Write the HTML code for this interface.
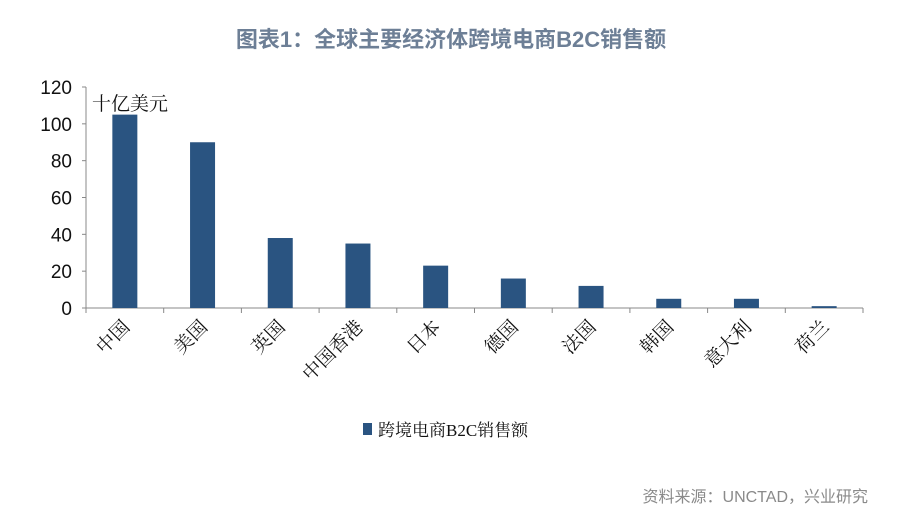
<!DOCTYPE html>
<html><head><meta charset="utf-8"><style>
body{margin:0;background:#fff;}
svg text{font-family:"Liberation Sans","Noto Sans CJK SC",sans-serif;}
svg text.serif{font-family:"Liberation Serif","Noto Serif CJK SC",serif;}
</style></head><body>
<svg width="902" height="517">
<text x="451" y="47" text-anchor="middle" font-size="22" font-weight="bold" fill="#6d7f96">图表1：全球主要经济体跨境电商B2C销售额</text>
<g id="plot"></g>
<text class="serif" x="92" y="110" font-size="19" fill="#111">十亿美元</text>
<rect x="363" y="423" width="9" height="12" fill="#2a5481"/>
<text class="serif" x="378" y="436" font-size="17" fill="#111">跨境电商B2C销售额</text>
<text x="868" y="502" text-anchor="end" font-size="16" fill="#8a8a8a">资料来源：UNCTAD，兴业研究</text>
</svg>
<script>
const categories=["中国","美国","英国","中国香港","日本","德国","法国","韩国","意大利","荷兰"];
const values=[105,90,38,35,23,16,12,5,5,1];
const yTicks=[0,20,40,60,80,100,120];
const ns="http://www.w3.org/2000/svg";
const g=document.getElementById('plot');
const x0=86,x1=863,yb=308,yt=87,ymax=120;
const band=(x1-x0)/categories.length;
const y=v=>yb-(v/ymax)*(yb-yt);
const bx=i=>x0+band*(i+0.5);
function mk(t,a){const e=document.createElementNS(ns,t);for(const k in a)e.setAttribute(k,a[k]);g.appendChild(e);return e;}
let e=mk('line',{x1:x0,y1:yt,x2:x0,y2:yb,stroke:'#888'});


e=mk('line',{x1:x0-4,y1:yb,x2:x1,y2:yb,stroke:'#888'});


yTicks.forEach(t=>{
 let l=mk('line',{x1:x0-4,y1:y(t),x2:x0,y2:y(t),stroke:'#888'});
 
 
 let tx=mk('text',{x:x0-14,y:y(t)+7,'text-anchor':'end','font-size':'19',fill:'#111'});
 tx.textContent=t;
 
 
});
for(let i=0;i<=categories.length;i++){
 let l=mk('line',{x1:x0+band*i,y1:yb,x2:x0+band*i,y2:yb+5,stroke:'#888'});
 
 
}
categories.forEach((c,i)=>{
 let r=mk('rect',{x:bx(i)-12.5,y:y(values[i]),width:25,height:yb-y(values[i]),fill:'#2a5481'});
 
 
 let cx=bx(i)+6,cy=yb+20;
 let t=mk('text',{x:cx,y:cy,'text-anchor':'end','font-size':'19',fill:'#111','class':'serif',transform:`rotate(-45 ${cx} ${cy})`});
 t.textContent=c;
 
 
});
</script>
</body></html>
